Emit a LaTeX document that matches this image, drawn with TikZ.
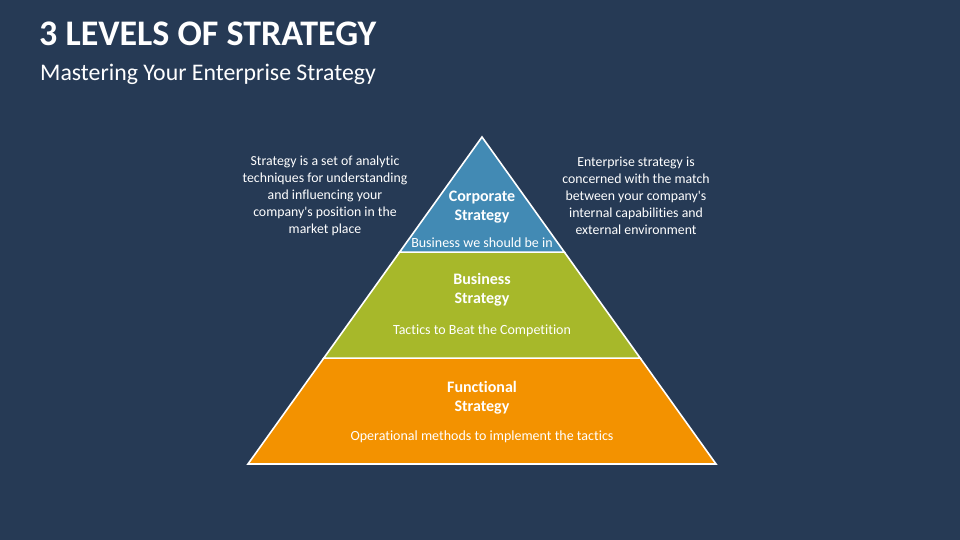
\documentclass[tikz,border=0pt]{standalone}
\usepackage{fontspec}
\setmainfont{Carlito}[Ligatures=NoCommon]
\usepackage{xcolor}
\usetikzlibrary{calc,positioning}
\definecolor{navy}{HTML}{263A55}
\definecolor{corpblue}{HTML}{428AB4}
\definecolor{busgreen}{HTML}{A7B82A}
\definecolor{funcorange}{HTML}{F39200}
\tikzset{
  layer/.style={draw=white, line width=1.6pt, line join=miter},
  heading/.style={text=white, align=center, font=\fontsize{16}{19}\selectfont\bfseries},
  caption/.style={text=white, align=center, font=\fontsize{14}{16}\selectfont},
  sidenote/.style={text=white, align=center, font=\fontsize{13.8}{17}\selectfont}
}

\begin{document}
\begin{tikzpicture}[x=1pt, y=-1pt]
  % background
  \fill[navy] (0,0) rectangle (960,540);
  \useasboundingbox (0,0) rectangle (960,540);

  \node[anchor=base west, text=white, font=\fontsize{36}{40}\selectfont\bfseries, inner sep=0pt] (title) at (39,46) {3 LEVELS OF STRATEGY};
  \node[anchor=base west, text=white, font=\fontsize{23.8}{26}\selectfont, inner sep=0pt] (subtitle) at (40,81) {Mastering Your Enterprise Strategy};

  % pyramid corners
  \coordinate (apex) at (482,137);
  \coordinate (bl) at (248,464);
  \coordinate (br) at (716,464);
  \coordinate (l1) at ($(apex)!0.352!(bl)$);
  \coordinate (r1) at ($(apex)!0.352!(br)$);
  \coordinate (l2) at ($(apex)!0.676!(bl)$);
  \coordinate (r2) at ($(apex)!0.676!(br)$);

  \filldraw[layer, fill=funcorange] (l2) -- (r2) -- (br) -- (bl) -- cycle;
  \filldraw[layer, fill=busgreen] (l1) -- (r1) -- (r2) -- (l2) -- cycle;
  \filldraw[layer, fill=corpblue] (apex) -- (r1) -- (l1) -- cycle;

  % labels
  \node[heading] (corp) at (482,207) {Corporate\\Strategy};
  \node[caption] (corpnote) at (482,243) {Business we should be in};
  \node[heading] (bus) at (482,290) {Business\\Strategy};
  \node[caption] (busnote) at (482,331) {Tactics to Beat the Competition};
  \node[heading] (func) at (482,398) {Functional\\Strategy};
  \node[caption] (funcnote) at (482,437) {Operational methods to implement the tactics};

  \node[sidenote] (left) at (325,196) {Strategy is a set of analytic\\techniques for understanding\\and influencing your\\company\textquotesingle s position in the\\market place};
  \node[sidenote] (right) at (636,196) {Enterprise strategy is\\concerned with the match\\between your company\textquotesingle s\\internal capabilities and\\external environment};
\end{tikzpicture}
\end{document}
